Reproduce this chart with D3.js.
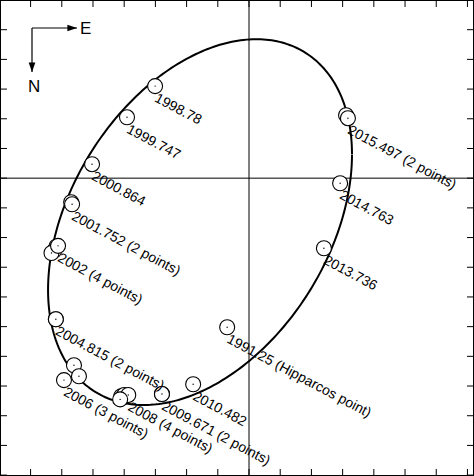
<!DOCTYPE html>
<html><head><meta charset="utf-8">
<script src="https://cdn.jsdelivr.net/npm/d3@7"></script>
<style>body{margin:0;background:#fff}svg{display:block}text{font-family:"Liberation Sans",Arial,sans-serif}</style>
</head><body><div id="chart"></div>
<script>
// offsets in tick units (E to the right, N downward)
const pointX = [-3.01,-3.91,-5.03,-5.70,-5.67,-6.17,-6.25,-6.33,-6.12,-6.19,-6.19,-5.61,-5.45,-5.93,-4.10,-4.00,-3.87,-4.13,-2.79,-2.79,-1.79,-0.70,2.40,2.92,3.11,3.17];
const pointY = [-3.10,-2.05,-0.47,0.81,0.88,2.30,2.45,2.52,2.28,4.75,4.75,6.30,6.67,6.80,7.35,7.30,7.30,7.45,7.27,7.27,6.94,5.02,2.36,0.17,-2.12,-2.02];
const labels = ["1998.78","1999.747","2000.864","2001.752 (2 points)","2002 (4 points)","2004.815 (2 points)","2006 (3 points)","2008 (4 points)","2009.671 (2 points)","2010.482","1991.25 (Hipparcos point)","2013.736","2014.763","2015.497 (2 points)"];
const labelAt = [0,1,2,4,8,9,13,16,18,20,21,22,23,25]; // index of point each label hangs off
// fitted orbit: centre, x/y half-extents, phase
const orbit = {cx:-1.57, cy:1.48, ax:4.87, by:6.16, phase:1.95};

const W = 474, H = 476;
const x = d3.scaleLinear().domain([-7.98, 7.21]).range([0, W]);
const y = d3.scaleLinear().domain([-6.0, 10.03]).range([0, H]);

const svg = d3.select('#chart').append('svg').attr('width', W).attr('height', H);
const defs = svg.append('defs');
defs.append('marker').attr('id','arr').attr('viewBox','0 0 10 10').attr('refX',10).attr('refY',5)
  .attr('markerWidth',8).attr('markerHeight',8).attr('orient','auto-start-reverse')
  .append('path').attr('d','M0,1.5L10,5L0,8.5Z').attr('fill','#000');

// frame + ticks
svg.append('rect').attr('x',0.5).attr('y',0.5).attr('width',W-1).attr('height',H-1)
  .attr('fill','none').attr('stroke','#000');
const xt = d3.range(-7, 8), yt = d3.range(-5, 11);
const tk = svg.append('g').attr('stroke','#000').attr('stroke-width',1);
xt.forEach(v => {
  tk.append('line').attr('x1',x(v)).attr('x2',x(v)).attr('y1',0).attr('y2',7);
  tk.append('line').attr('x1',x(v)).attr('x2',x(v)).attr('y1',H).attr('y2',H-7);
});
yt.forEach(v => {
  tk.append('line').attr('y1',y(v)).attr('y2',y(v)).attr('x1',0).attr('x2',7);
  tk.append('line').attr('y1',y(v)).attr('y2',y(v)).attr('x1',W).attr('x2',W-7);
});
// crosshair through the primary
svg.append('line').attr('x1',0).attr('x2',W).attr('y1',y(0)).attr('y2',y(0)).attr('stroke','#000');
svg.append('line').attr('x1',x(0)).attr('x2',x(0)).attr('y1',0).attr('y2',H).attr('stroke','#000');

// orbit
const ts = d3.range(0, 2*Math.PI + 0.01, 0.02);
svg.append('path')
  .attr('d', d3.line()(ts.map(t => [x(orbit.cx + orbit.ax*Math.cos(t)), y(orbit.cy + orbit.by*Math.cos(t + orbit.phase))])))
  .attr('fill','none').attr('stroke','#000').attr('stroke-width',2);

// points
const pts = pointX.map((v,i) => ({x:v, y:pointY[i]}));
const pg = svg.append('g').selectAll('g').data(pts).enter().append('g')
  .attr('transform', d => `translate(${x(d.x)},${y(d.y)})`);
pg.append('circle').attr('r',7.5).attr('fill','#fff').attr('stroke','#000').attr('stroke-width',1.1);
pg.append('circle').attr('r',0.7).attr('fill','#000');

// labels
svg.append('g').selectAll('text').data(labels).enter().append('text')
  .attr('transform', (d,i) => { const p = pts[labelAt[i]]; return `translate(${x(p.x)+4},${y(p.y)+5}) rotate(28)`; })
  .attr('dy','0.8em').attr('font-size',14).text(d => d);

// compass
const c = svg.append('g');
c.append('line').attr('x1',32).attr('y1',28).attr('x2',77).attr('y2',28).attr('stroke','#000').attr('stroke-width',1.2).attr('marker-end','url(#arr)');
c.append('line').attr('x1',32).attr('y1',28).attr('x2',32).attr('y2',72).attr('stroke','#000').attr('stroke-width',1.2).attr('marker-end','url(#arr)');
c.append('text').attr('x',80).attr('y',34).attr('font-size',17).text('E');
c.append('text').attr('x',28).attr('y',92).attr('font-size',17).text('N');
</script></body></html>
